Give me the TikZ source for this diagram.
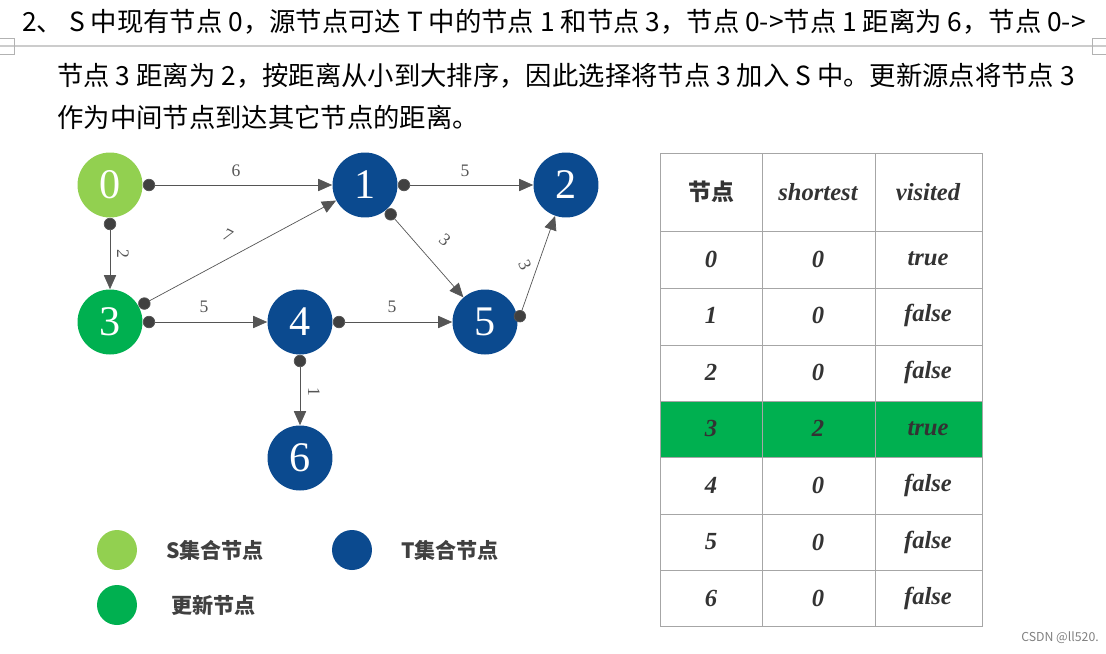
\documentclass[tikz,border=0pt]{standalone}
\usepackage{fontspec}
\setmainfont{Noto Sans CJK SC}
\newfontfamily\cellfont{Liberation Serif}
\usetikzlibrary{arrows.meta}
\definecolor{sgreen}{HTML}{92D050}
\definecolor{ugreen}{HTML}{00B050}
\definecolor{tblue}{HTML}{0B4A8F}
\definecolor{edgegray}{HTML}{555555}

\begin{document}
\begin{tikzpicture}[x=0.02cm, y=-0.02cm,
    vertex/.style={circle, minimum size=1.3cm, inner sep=0pt, text=white, font=\cellfont\fontsize{24}{24}\selectfont},
    edge/.style={draw=edgegray, {Circle[length=7pt, fill=darkgray]}-{Triangle[length=8pt,width=7pt]}},
    wlabel/.style={font=\cellfont\fontsize{10}{10}\selectfont, text=edgegray},
    cell/.style={font=\cellfont\bfseries\itshape\fontsize{14}{14}\selectfont, text=black!80},
    txt/.style={anchor=west, inner sep=0pt, font=\fontsize{15}{15}\selectfont}]
    \useasboundingbox (0,0) rectangle (1106,653);

    % Text above the picture
    \node[txt] (line1) at (22,22) {2、 S 中现有节点 0，源节点可达 T 中的节点 1 和节点 3，节点 0->节点 1 距离为 6，节点 0->};
    \node[txt] (line2) at (57,76) {节点 3 距离为 2，按距离从小到大排序，因此选择将节点 3 加入 S 中。更新源点将节点 3};
    \node[txt] (line3) at (57,117) {作为中间节点到达其它节点的距离。};
    \draw[gray!40, line width=1.2pt] (0,46) -- (1106,46);
    \draw[gray!60] (0,38) -- (14,38) -- (14,54) -- (0,54);
    \draw[gray!60] (1106,38) -- (1092,38) -- (1092,54) -- (1106,54);

    % Vertices
    \node[vertex, fill=sgreen] (n0) at (110,185) {0};
    \node[vertex, fill=tblue] (n1) at (365,185) {1};
    \node[vertex, fill=tblue] (n2) at (566,185) {2};
    \node[vertex, fill=ugreen] (n3) at (110,322) {3};
    \node[vertex, fill=tblue] (n4) at (300,322) {4};
    \node[vertex, fill=tblue] (n5) at (485,322) {5};
    \node[vertex, fill=tblue] (n6) at (300,458) {6};

    % Edges
    \draw[edge] (n0) -- (n1);
    \draw[edge] (n1) -- (n2);
    \draw[edge] (n0) -- (n3);
    \draw[edge] (n3) -- (n1);
    \draw[edge] (n1) -- (n5);
    \draw[edge] (n5.east) -- (n2);
    \draw[edge] (n3) -- (n4);
    \draw[edge] (n4) -- (n5);
    \draw[edge] (n4) -- (n6);

    % Weights
    \node[wlabel] (w01) at (236,171) {6};
    \node[wlabel] (w12) at (465,171) {5};
    \node[wlabel, rotate=-90] (w03) at (123,254) {2};
    \node[wlabel, rotate=-27] (w31) at (228,235) {7};
    \node[wlabel, rotate=-40] (w15) at (445,240) {3};
    \node[wlabel, rotate=-65] (w52) at (525,265) {3};
    \node[wlabel] (w34) at (204,307) {5};
    \node[wlabel] (w45) at (392,307) {5};
    \node[wlabel, rotate=-90] (w46) at (314,392) {1};

    % Legend
    \node[circle, fill=sgreen, minimum size=0.8cm] (ls) at (117,550) {};
    \node[anchor=west, font=\bfseries\itshape\fontsize{12}{12}\selectfont, text=darkgray] (lst) at (160,550) {S集合节点};
    \node[circle, fill=tblue, minimum size=0.8cm] (lt) at (352,550) {};
    \node[anchor=west, font=\bfseries\itshape\fontsize{12}{12}\selectfont, text=darkgray] (ltt) at (395,550) {T集合节点};
    \node[circle, fill=ugreen, minimum size=0.8cm] (lu) at (117,605) {};
    \node[anchor=west, font=\bfseries\itshape\fontsize{12}{12}\selectfont, text=darkgray] (lut) at (165,605) {更新节点};

    % Table
    \fill[ugreen] (660,401) rectangle (982,457);
    \draw[gray!70] (660,153) rectangle (982,626);
    \foreach \x in {762,875} \draw[gray!70] (\x,153) -- (\x,626);
    \foreach \y in {231,288,345,401,457,514,570} \draw[gray!70] (660,\y) -- (982,\y);
    \node[font=\bfseries\itshape\fontsize{13}{13}\selectfont, text=black!80] (h1) at (711,192) {节点};
    \node[cell] (h2) at (818,192) {shortest};
    \node[cell] (h3) at (928,192) {visited};
    \foreach \i/\d/\v [count=\r from 0] in {0/0/true,1/0/false,2/0/false,3/2/true,4/0/false,5/0/false,6/0/false} {
        \node[cell] (c\r a) at (711,{259+56.6*\r}) {\i};
        \node[cell] (c\r b) at (818,{259+56.6*\r}) {\d};
        \node[cell] (c\r c) at (928,{259+56.6*\r}) {\v};
    }
    \node[font=\fontsize{7}{7}\selectfont, text=gray] (mark) at (1060,638) {CSDN @ll520.};
\end{tikzpicture}
\end{document}
